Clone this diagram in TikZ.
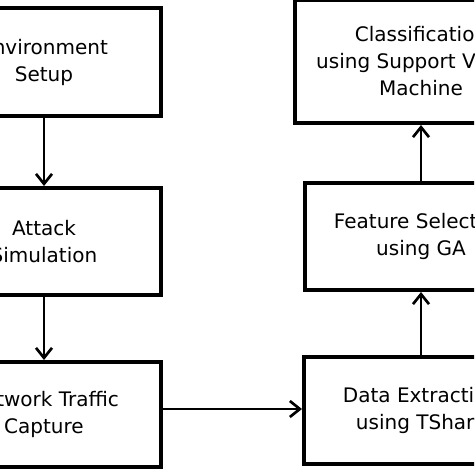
\documentclass[tikz,border=0pt]{standalone}
\usepackage{fontspec}
\setmainfont{DejaVu Sans}
\usetikzlibrary{arrows.meta}
\begin{document}
\begin{tikzpicture}[x=0.75pt,y=-0.75pt,
  box/.style={draw=black,line width=3pt,rectangle,align=center,inner sep=0pt,
    font=\fontsize{15pt}{20.25pt}\selectfont},
  arr/.style={line width=2.2pt,-{Straight Barb[length=7.5pt,width=12pt,line width=2pt]}}]
\useasboundingbox (0,0) rectangle (474,474);
\clip (0,0) rectangle (474,474);
\fill[white] (0,0) rectangle (474,474);
\node[box,minimum width=175.5pt,minimum height=81pt] (b1) at (44,62) {Environment\\Setup};
\node[box,minimum width=175.5pt,minimum height=80.25pt] (b2) at (44,241.5) {Attack\\Simulation};
\node[box,minimum width=175.5pt,minimum height=78.75pt] (b3) at (44,414.5) {Network Traffic\\Capture};
\node[box,minimum width=189pt,minimum height=92.25pt] (b4) at (421,61.5) {Classification\\using Support Vector\\Machine};
\node[box,minimum width=174pt,minimum height=80.25pt] (b5) at (421,236.5) {Feature Selection\\using GA};
\node[box,minimum width=175.5pt,minimum height=80.25pt] (b6) at (421,410.5) {Data Extraction\\using TShark};
\coordinate (h) at (0,409);
\draw[arr] (b1.south) -- (b2.north);
\draw[arr] (b2.south) -- (b3.north);
\draw[arr] (b3.east |- h) -- (b6.west |- h);
\draw[arr] (b6.north) -- (b5.south);
\draw[arr] (b5.north) -- (b4.south);
\end{tikzpicture}
\end{document}
